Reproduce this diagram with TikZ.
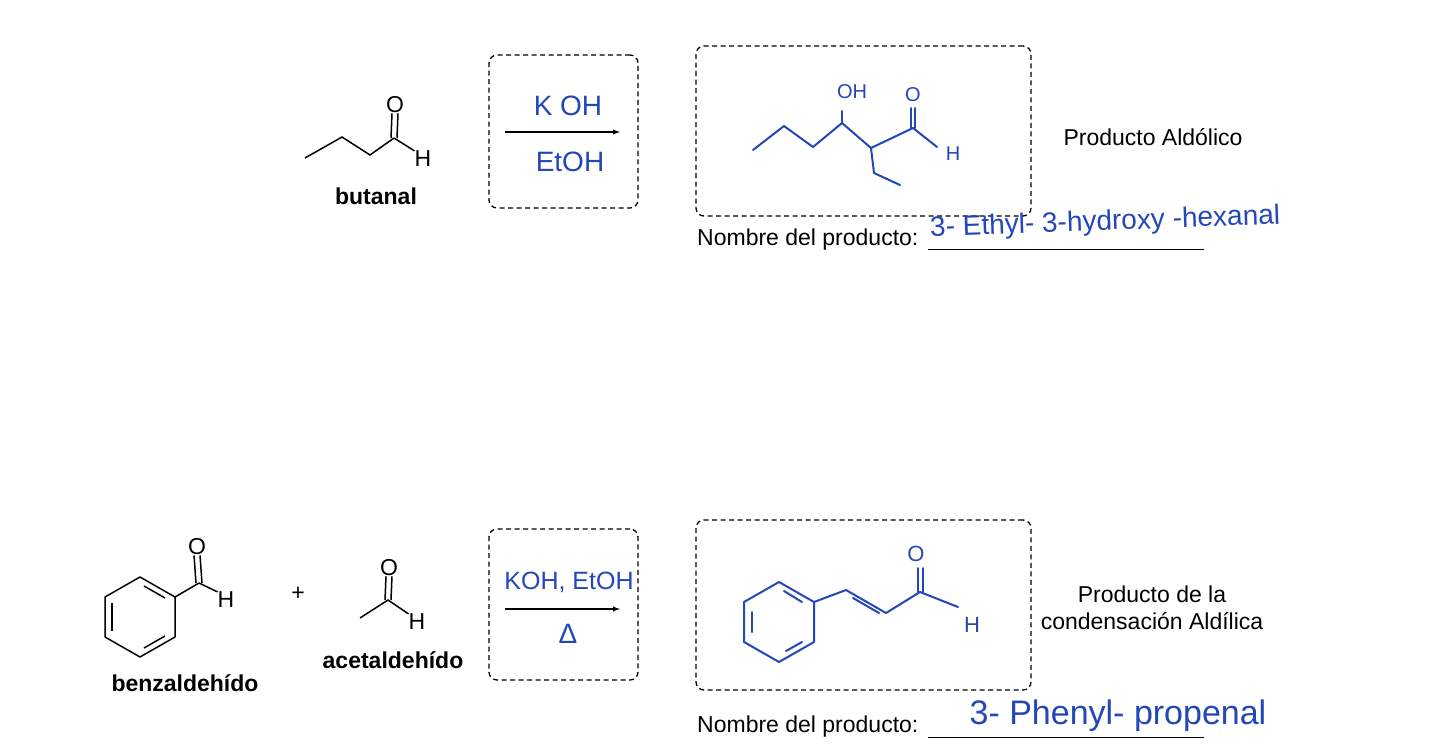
\documentclass[tikz,border=0pt]{standalone}
\usepackage{fontspec}
\setmainfont{Liberation Sans}
\begin{document}
\begin{tikzpicture}[x=1pt,y=-1pt,
  bond/.style={line width=1.5pt,black},
  hbond/.style={line width=2pt,color=hblue,line cap=round,line join=round},
  dbox/.style={draw,dash pattern=on 5pt off 3.5pt,line width=1.3pt,rounded corners=8pt},
  lbl/.style={font=\fontsize{23}{27}\selectfont,inner sep=0pt},
  atom/.style={font=\fontsize{23}{27}\selectfont,inner sep=0pt},
  cname/.style={font=\bfseries\fontsize{23}{27}\selectfont,inner sep=0pt},
  hand/.style={font=\fontsize{28}{32}\selectfont,color=hblue,inner sep=0pt},
  hsmall/.style={font=\fontsize{20}{24}\selectfont,color=hblue,inner sep=0pt},
  rx/.style={-latex,line width=1.4pt}]
\definecolor{hblue}{RGB}{35,70,185}
\useasboundingbox (0,0) rectangle (1456,755);
% ---------- top: butanal ----------
\coordinate (b1) at (305,158); \coordinate (b2) at (342,137);
\coordinate (b3) at (370,155); \coordinate (b4) at (394,138);
\node[atom] (bO) at (395,105) {O};
\node[atom] (bH) at (423,159) {H};
\draw[bond] (b1)--(b2)--(b3)--(b4);
\draw[bond] ([xshift=-3]b4)--([xshift=-3]bO.south);
\draw[bond] ([xshift=3]b4)--([xshift=3]bO.south);
\draw[bond] (b4)--(bH.north west);
\node[cname] (butanal) at (376,196) {butanal};
% box 1
\node[dbox,minimum width=149,minimum height=153] (box1) at (563.5,131.5) {};
\coordinate (a1s) at (505,132); \coordinate (a1e) at (620,132);
\draw[rx] (a1s)--(a1e);
\node[hand] (koh1) at (568,106) {K OH};
\node[hand] (etoh1) at (570,162) {EtOH};
% box 2
\node[dbox,minimum width=335,minimum height=170] (box2) at (863.5,131) {};
\coordinate (p1) at (753,150); \coordinate (p2) at (784,126);
\coordinate (p3) at (813,147); \coordinate (p4) at (842,123);
\coordinate (p5) at (871,148); \coordinate (p6) at (913,128);
\coordinate (p7) at (937,147);
\coordinate (p8) at (874,173); \coordinate (p9) at (900,185);
\draw[hbond] (p1)--(p2)--(p3)--(p4)--(p5)--(p6)--(p7);
\draw[hbond] (p5)--(p8)--(p9);
\draw[hbond] (p4)--++(0,-12);
\draw[hbond] ([xshift=-2]p6)--++(0,-20);
\draw[hbond] ([xshift=2]p6)--++(0,-20);
\node[hsmall] (pOH) at (852,92) {OH};
\node[hsmall] (pO) at (913,95) {O};
\node[hsmall] (pH) at (953,154) {H};
\node[lbl] (prod1) at (1153,137) {Producto Aldólico};
\node[lbl,anchor=west] (nom1) at (697,240) {Nombre del producto:};
\coordinate (l1s) at (928,249); \coordinate (l1e) at (1204,249);
\draw[line width=1pt] (l1s)--(l1e);
\node[hand,font=\fontsize{28}{32}\selectfont,anchor=west,rotate=2] (name1) at (930,229) {3- Ethyl- 3-hydroxy -hexanal};
% ---------- bottom: benzaldehyde ----------
\coordinate (r1) at (140,577); \coordinate (r2) at (175,597);
\coordinate (r3) at (175,637); \coordinate (r4) at (140,657);
\coordinate (r5) at (105,637); \coordinate (r6) at (105,597);
\draw[bond,line join=round] (r1)--(r2)--(r3)--(r4)--(r5)--(r6)--cycle;
\draw[bond] (112,603)--(112,631);
\draw[bond] (144,586)--(165,598);
\draw[bond] (165,636)--(144,648);
\coordinate (bc) at (199,583);
\node[atom] (bzO) at (197,547) {O};
\node[atom] (bzH) at (226,600) {H};
\draw[bond] (r2)--(bc);
\draw[bond] ([xshift=-3]bc)--([xshift=-3]bzO.south);
\draw[bond] ([xshift=3]bc)--([xshift=3]bzO.south);
\draw[bond] (bc)--(bzH.north west);
\node[cname] (benz) at (185,683) {benzaldehído};
\node[atom] (plus) at (298,594) {+};
% acetaldehyde
\coordinate (ac1) at (360,618); \coordinate (ac2) at (388,600);
\node[atom] (acO) at (389,568) {O};
\node[atom] (acH) at (417,622) {H};
\draw[bond] (ac1)--(ac2)--(acH.north west);
\draw[bond] ([xshift=-3]ac2)--([xshift=-3]acO.south);
\draw[bond] ([xshift=3]ac2)--([xshift=3]acO.south);
\node[cname] (acet) at (393,660) {acetaldehído};
% box 3
\node[dbox,minimum width=149,minimum height=151] (box3) at (563.5,604.5) {};
\coordinate (a2s) at (505,609); \coordinate (a2e) at (620,609);
\draw[rx] (a2s)--(a2e);
\node[hand,font=\fontsize{25}{30}\selectfont] (koh2) at (569,582) {KOH, EtOH};
\node[hand] (delta) at (568,634) {Δ};
% box 4
\node[dbox,minimum width=335,minimum height=170] (box4) at (863.5,605) {};
\coordinate (q1) at (779,582); \coordinate (q2) at (814,602);
\coordinate (q3) at (814,642); \coordinate (q4) at (779,662);
\coordinate (q5) at (744,642); \coordinate (q6) at (744,602);
\draw[hbond] (q1)--(q2)--(q3)--(q4)--(q5)--(q6)--cycle;
\draw[hbond] (752,612)--(752,632);
\draw[hbond] (784,591)--(802,602);
\draw[hbond] (802,642)--(786,651);
\coordinate (c1) at (846,590); \coordinate (c2) at (886,613);
\coordinate (c3) at (920,592); \coordinate (c4) at (958,607);
\draw[hbond] (q2)--(c1)--(c2)--(c3)--(c4);
\draw[hbond] (853,598)--(879,613);
\draw[hbond] ([xshift=-2.5]c3)--++(0,-24);
\draw[hbond] ([xshift=2.5]c3)--++(0,-24);
\node[hsmall,font=\fontsize{22}{26}\selectfont] (qO) at (916,554) {O};
\node[hsmall,font=\fontsize{22}{26}\selectfont] (qH) at (972,625) {H};
\node[lbl,align=center] (prod2) at (1152,608) {Producto de la\\condensación Aldílica};
\node[lbl,anchor=west] (nom2) at (697,727) {Nombre del producto:};
\coordinate (l2s) at (928,737); \coordinate (l2e) at (1204,737);
\draw[line width=1pt] (l2s)--(l2e);
\node[hand,font=\fontsize{34}{38}\selectfont] (name2) at (1118,716) {3- Phenyl- propenal};
\end{tikzpicture}
\end{document}
